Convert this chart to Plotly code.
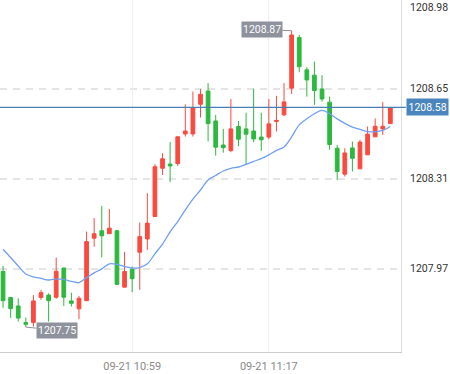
import plotly.graph_objects as go

# ---- data ----
idx = list(range(52))
open_ = [1207.960, 1207.862, 1207.830, 1207.767, 1207.767, 1207.862, 1207.871, 1207.863, 1207.973, 1207.849,
         1207.819, 1207.850, 1208.086, 1208.114, 1208.103, 1208.114, 1207.901, 1207.969, 1208.033, 1208.083,
         1208.168, 1208.350, 1208.366, 1208.368, 1208.480, 1208.480, 1208.592, 1208.642, 1208.529, 1208.438,
         1208.417, 1208.508, 1208.499, 1208.491, 1208.468, 1208.468, 1208.527, 1208.552, 1208.653, 1208.844,
         1208.722, 1208.702, 1208.650, 1208.600, 1208.426, 1208.328, 1208.427, 1208.348, 1208.401, 1208.469,
         1208.499, 1208.519]
close = [1207.850, 1207.820, 1207.784, 1207.761, 1207.849, 1207.880, 1207.850, 1207.961, 1207.863, 1207.840,
         1207.859, 1208.073, 1208.103, 1208.095, 1208.124, 1207.912, 1207.960, 1207.933, 1208.092, 1208.143,
         1208.356, 1208.386, 1208.359, 1208.469, 1208.491, 1208.579, 1208.630, 1208.519, 1208.430, 1208.428,
         1208.499, 1208.460, 1208.479, 1208.461, 1208.458, 1208.518, 1208.531, 1208.601, 1208.854, 1208.734,
         1208.684, 1208.644, 1208.612, 1208.440, 1208.338, 1208.408, 1208.388, 1208.449, 1208.479, 1208.509,
         1208.509, 1208.580]
high = [1207.981, 1207.864, 1207.859, 1207.786, 1207.871, 1207.891, 1207.878, 1208.013, 1207.975, 1207.880,
        1207.868, 1208.111, 1208.162, 1208.208, 1208.196, 1208.117, 1208.034, 1207.979, 1208.145, 1208.256,
        1208.366, 1208.407, 1208.449, 1208.471, 1208.592, 1208.640, 1208.649, 1208.672, 1208.552, 1208.499,
        1208.612, 1208.529, 1208.560, 1208.651, 1208.560, 1208.612, 1208.624, 1208.672, 1208.870, 1208.854,
        1208.732, 1208.753, 1208.702, 1208.621, 1208.438, 1208.426, 1208.451, 1208.457, 1208.508, 1208.539,
        1208.600, 1208.580]
low = [1207.823, 1207.785, 1207.771, 1207.750, 1207.752, 1207.853, 1207.771, 1207.857, 1207.830, 1207.828,
       1207.780, 1207.850, 1208.054, 1208.014, 1208.103, 1207.910, 1207.901, 1207.882, 1207.891, 1208.042,
       1208.168, 1208.325, 1208.298, 1208.359, 1208.470, 1208.470, 1208.542, 1208.451, 1208.398, 1208.409,
       1208.411, 1208.434, 1208.363, 1208.449, 1208.416, 1208.460, 1208.489, 1208.548, 1208.631, 1208.713,
       1208.621, 1208.590, 1208.602, 1208.420, 1208.306, 1208.319, 1208.338, 1208.348, 1208.401, 1208.469,
       1208.476, 1208.519]
ma = [1208.044, 1208.013, 1207.981, 1207.951, 1207.940, 1207.934, 1207.928, 1207.932, 1207.930, 1207.923,
      1207.918, 1207.937, 1207.955, 1207.970, 1207.989, 1207.987, 1207.979, 1207.973, 1207.975, 1207.989,
      1208.027, 1208.064, 1208.110, 1208.149, 1208.193, 1208.234, 1208.268, 1208.306, 1208.323, 1208.340,
      1208.350, 1208.355, 1208.365, 1208.376, 1208.387, 1208.401, 1208.418, 1208.431, 1208.469, 1208.514,
      1208.537, 1208.556, 1208.569, 1208.556, 1208.537, 1208.520, 1208.506, 1208.497, 1208.489, 1208.488,
      1208.493, 1208.508]
x_tick_pos = [17, 35]
x_tick_labels = ["09-21 10:59", "09-21 11:17"]
y_tick_values = [1208.98, 1208.65, 1208.31, 1207.97, 1207.64]
y_tick_labels = ["1208.98", "1208.65", "1208.31", "1207.97", "1207.64"]
y_grid_values = [1208.65, 1208.31, 1207.97]
last_price = 1208.58
y_range = [1207.656, 1208.986]

RED = "#fa4a3f"
GREEN = "#2db83f"
FONT = "Roboto"

fig = go.Figure()
fig.add_trace(go.Candlestick(
    x=idx, open=open_, high=high, low=low, close=close,
    increasing=dict(line=dict(color=RED, width=1), fillcolor=RED),
    decreasing=dict(line=dict(color=GREEN, width=1), fillcolor=GREEN),
    whiskerwidth=0, hoverinfo="skip", showlegend=False,
))
fig.add_trace(go.Scatter(
    x=idx, y=ma, mode="lines", line=dict(color="#6f9ff2", width=1.3, shape="spline"),
    hoverinfo="skip", showlegend=False,
))

shapes = []
for v in y_grid_values:
    shapes.append(dict(type="line", xref="paper", x0=0, x1=1, yref="y", y0=v, y1=v,
                       line=dict(color="#dcdcdc", width=1.5, dash="7px,6px"), layer="below"))
shapes.append(dict(type="line", xref="paper", x0=0, x1=1.012, yref="y", y0=last_price, y1=last_price,
                   line=dict(color="#4a7fb5", width=1.3)))
annotations = []
shifts = [-6, 0, 0, 0, -2]
for v, t, s in zip(y_tick_values, y_tick_labels, shifts):
    annotations.append(dict(xref="paper", x=1, xanchor="left", xshift=7, yref="y", y=v, yanchor="middle",
                            yshift=s, text=t, showarrow=False,
                            font=dict(family=FONT, size=10.5, color="#333333")))
annotations.append(dict(xref="paper", x=1, xanchor="left", xshift=5, yref="y", y=last_price,
                        yanchor="middle", text=f"{last_price:.2f}", showarrow=False,
                        bgcolor="#4a86bd", borderpad=1.5,
                        font=dict(family=FONT, size=10.5, color="white")))
imax = high.index(max(high))
imin = low.index(min(low))
annotations.append(dict(x=imax, y=max(high), text=f"{max(high):.2f}", showarrow=True, arrowhead=0,
                        arrowcolor="#8e929c", arrowwidth=1, ax=-30, ay=-1, xanchor="center",
                        bgcolor="#8e929c", borderpad=1,
                        font=dict(family=FONT, size=10.5, color="white")))
annotations.append(dict(x=imin, y=min(low), text=f"{min(low):.2f}", showarrow=True, arrowhead=0,
                        arrowcolor="#8e929c", arrowwidth=1, ax=31, ay=3, xanchor="center",
                        bgcolor="#8e929c", borderpad=1,
                        font=dict(family=FONT, size=10.5, color="white")))

fig.update_layout(
    width=450, height=374,
    margin=dict(l=0, r=49, t=0, b=22),
    paper_bgcolor="white", plot_bgcolor="white",
    shapes=shapes, annotations=annotations,
    xaxis=dict(range=[-0.4, 52.4], tickmode="array", tickvals=x_tick_pos, ticktext=x_tick_labels,
               showgrid=True, gridcolor="#eeeeee", gridwidth=1, zeroline=False,
               showline=True, linecolor="#cccccc", linewidth=1, ticks="",
               ticklabelstandoff=4,
               tickfont=dict(family=FONT, size=11, color="#8a8a8a"),
               rangeslider=dict(visible=False), fixedrange=True),
    yaxis=dict(range=y_range, side="right", showticklabels=False, showgrid=False, zeroline=False,
               showline=True, linecolor="#dddddd", linewidth=1, ticks="", fixedrange=True),
)

fig.write_html("out.html")
